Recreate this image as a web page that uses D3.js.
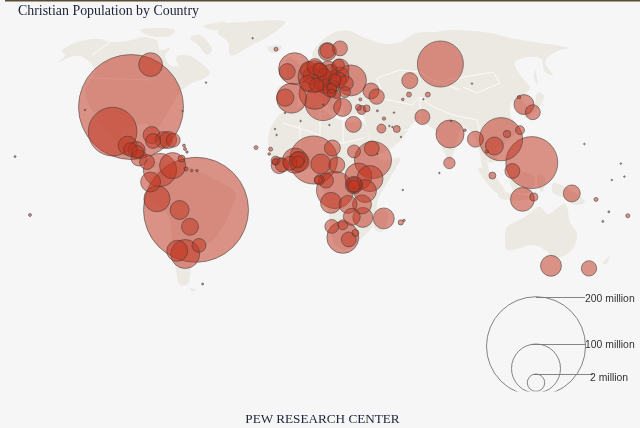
<!DOCTYPE html>
<html><head><meta charset="utf-8">
<style>html,body{margin:0;padding:0;background:#f6f6f6}svg{display:block;filter:blur(0.3px)}</style>
<script src="https://cdn.jsdelivr.net/npm/d3@7"></script></head><body>
<svg id="c" width="640" height="428"></svg>
<script>
const titleText="Christian Population by Country";
const sourceText="PEW RESEARCH CENTER";
const legendMillions=[200,100,2];
const legendLabels=["200 million","100 million","2 million"];

// [lon, lat, Christians in millions]
const americas=[[-90.5,38,212],[-80.7,59.2,22],[-99.7,25.7,99],[-92.2,18.7,7],[-90.7,16.7,1.6],[-87.7,16.5,1.95],[-87.2,15.7,1.38],[-86.5,12.5,1.84],[-82.5,10.5,1.72],[-80.2,24,1.95],[-79.5,21,1.72],[-74.2,21.5,1.95],[-71.9,21.5,1.95],[-69.4,21.4,1.6],[-69.7,8.7,29],[-76,6.5,51],[-77.5,-7.9,29],[-80.7,0.5,10],[-66.2,-13.5,7],[-58,-13.4,212],[-61,-21.9,1.95],[-67.4,-33.9,13],[-63.4,-35.5,38],[-56.5,-31.2,1.6],[-63,7,.46],[-60.2,6.2,.28],[-57.5,6.2,.28],[-65.2,12.2,.8],[-64,18.7,.34],[-63.5,17,.34],[-62.5,15.5,.28],[-29.7,72.4,.18],[-18,66.9,.46],[-148.5,13.2,.23],[-113.5,36.5,.18],[-64.7,36,.16],[-53,50.2,.18],[-141,-16,.34],[-54.7,-50.5,.23]];
const europe=[[-8.7,57.2,47],[-12.4,55.7,1.84],[-10.2,42.4,41],[-13.4,42.7,2],[1,53.2,47],[5.5,40.2,60],[1.5,44.8,47],[19.5,51.3,44],[7.7,66.1,1.72],[7.7,65.7,3.9],[14,67.3,1.72],[15.3,37.8,3.9],[29.5,46,1.84],[32.3,43.2,1.77],[23.2,37.8,.69],[27.3,37.3,.8],[24.8,36.5,1.03],[24.2,41.8,.34],[32.7,36.1,.23],[-1.8,56.5,1.9],[-2.3,49.8,1.84],[6.2,53.7,1.6],[6.5,48.2,1.6],[13.2,59,1.38],[13.2,51.5,1.84],[16.9,49.8,1.72],[10.7,48.2,1.38],[12.3,44.3,.92],[2.3,49,1.6],[1.5,58.2,1.84],[9,55.5,1.72],[4,56.5,1.6],[14,57.5,3.9],[16.5,45.5,1.26],[9.8,47.3,1.15],[9.8,44.8,.92],[11.5,51.5,1.38],[3,55.5,3.9],[8,56.5,3.9],[10,51.5,3.9],[5,50.5,3.9],[0,53.5,3.9],[14,53.5,3.9],[9,46.5,1.6]];
const africa=[[-28,17.7,.46],[-20.7,16.9,.46],[-21.4,14.5,.3],[-18.2,11.2,1.03],[-18.4,10.7,.69],[-16.4,8.7,1.84],[-14.9,9,1.6],[-11,9.9,1.6],[-8.5,11.2,26],[-6.4,10.7,10],[-7.2,11.9,1.72],[-7,10.5,1.38],[.7,11.5,97],[10.2,17.5,1.84],[4.4,9.5,10],[12.4,9,1.84],[3.7,1.5,1.15],[3.2,1.5,.92],[7,1.2,1.72],[11.5,-3.5,63],[30.5,11.5,63],[29.9,17.3,1.72],[21,15.8,1.49],[23.2,3.2,32],[29,2.2,29],[21,-1,2],[21,-1,1.72],[21,-1.5,1.38],[26.5,-4,19],[9.5,-9.9,13],[18,-10.7,3.9],[25,-10.7,7],[19.9,-16.9,1.95],[25.4,-17.2,10],[35.9,-17.7,13],[44.4,-19.7,.6],[46,-18.7,.28],[9.9,-21.7,1.6],[15.4,-20.9,1.15],[15.4,-27.2,47],[18.4,-28.2,1.72],[21.7,-25,.8],[20.7,29.3,1.84]];
const asiaPacific=[[64.2,59.5,91],[48.9,51.2,1.84],[48.5,44.2,.57],[57.9,44.2,.57],[45.4,41.8,.3],[55.2,33,1.72],[69,24.5,35],[68.7,10,1.31],[81.7,21.9,1.84],[94.5,21.9,82],[91.2,18.5,3.9],[97.5,24.5,.85],[104,26.4,1.03],[106,39.2,10],[110.4,35.4,1.72],[109.9,10.2,106],[100.2,6,1.72],[90.2,3.7,.8],[105.2,-8.2,22],[110.9,-7,.92],[129.9,-5.2,1.95],[142,-8.2,.46],[34.7,27.2,1.03],[42.4,27,.8],[36,32.2,.39],[103.5,42.9,.39],[87.4,15.7,.39],[76.5,26.4,.3],[119.5,-41.4,13],[138.5,-42.7,1.77],[157.9,-16.4,.46],[145.4,-19.2,.23],[136.2,19.5,.18],[154.4,9.7,.18],[156.2,3.2,.18],[149.9,1.5,.18],[148.4,-14.4,.23],[80,49.7,.18],[41,35.2,.18],[55.7,41.9,.16],[69.5,31,.18],[63.7,5,.18],[45.4,-3.5,.18],[44.5,23,.18],[38.7,28.5,.18],[40.2,28,.18],[32.7,14.5,.16],[5.7,39.2,.18],[8.7,29,.18],[-5.7,31,.18],[-18.5,27,.18],[-17.7,24,.18],[-13.5,35,.18]];

// land outlines, same map grid
const northAmerica=[[-127.5,60],[-123.5,64],[-125,66],[-121,69],[-113.5,71.5],[-106,72],[-101,70.5],[-90,71.5],[-84.5,73],[-77.5,71],[-76,66.5],[-71,67.5],[-73.5,63.5],[-71,59],[-67,58.5],[-68,63],[-62.5,64],[-56,60.5],[-51,55],[-53.5,52.5],[-61,49.5],[-66,45.5],[-68.5,41.5],[-74.5,31.5],[-79.5,25],[-82.5,29.5],[-92,27.5],[-95,24],[-92.5,20],[-87.5,19],[-86,16.5],[-82.5,11.5],[-76,10],[-78.5,7.5],[-83.5,10],[-93.5,16.5],[-103.5,27.5],[-110,36.5],[-113.5,46.5],[-108.5,56.5],[-116,63.5],[-122,62.5]];
const southAmerica=[[-74.5,10.5],[-63.5,9],[-56,5.5],[-50,2.5],[-38.5,-5],[-41,-14.5],[-48.5,-27.5],[-56,-33.5],[-60,-39.5],[-61,-46],[-62,-50.5],[-66,-51],[-68,-43.5],[-70,-28.5],[-72,-16],[-81,-8.5],[-82,-1],[-78.5,5.5]];
const eurasia=[[-17,47.5],[-8.5,51.5],[-2,56.5],[1.5,60.5],[0,64],[6.5,72.5],[16.5,76.5],[26.5,72.5],[36.5,69.5],[44,70.5],[52.5,75],[61.5,75.5],[70.5,76.5],[89,75],[99,72.5],[110.5,70.5],[128,67.5],[121.5,65.5],[116.5,60.5],[120.5,54],[116.5,55.5],[114,62.5],[101.5,60.5],[104,54],[109,47.5],[105,42.5],[108,37.5],[105,34],[102.5,36.5],[100,40.5],[99,34],[103,27.5],[96.5,20],[91.5,16.5],[93,11.5],[88,10.5],[86,16.5],[89,2.5],[86,5.5],[83,19],[80,25],[75.5,28],[69,11.5],[65.5,16.5],[61.5,26.5],[51.5,30.5],[47.5,25.5],[43,20],[33,15],[28,25],[25,34],[16.5,34],[15,39],[10,41.5],[11.5,35.5],[1.5,44],[-6,44],[-8.5,36.5],[-16,36.5],[-17.5,44]];
const africaLand=[[-22,21.5],[-20,29],[-14.5,35.5],[-6,38.5],[4,37.5],[11.5,32.5],[19,30.5],[25.5,30.5],[30,17.5],[35,11.5],[44,12.5],[39,2.5],[33,-8.5],[31.5,-19.5],[24,-28.5],[16.5,-33.5],[11.5,-31],[7.5,-11],[4,.5],[1.5,6.5],[-8.5,6.5],[-15,5.5],[-21,14]];
const australia=[[105.5,-17.5],[114,-12],[118,-15.5],[126.5,-10.5],[129,-19.5],[132.5,-25.5],[130,-33.5],[121.5,-37.5],[116.5,-33.5],[110.5,-31],[97.5,-33.5],[96.5,-28.5],[97.5,-22]];
const islands=[
[[-41,64],[-42,70.5],[-47,75],[-45,79],[-33.5,80.5],[-13.5,80.5],[-18.5,75.5],[-25,71.5],[-32,68],[-38.5,64]],
[[-61,72.5],[-56,74],[-50,66.5],[-52.5,64],[-57,69]],
[[-54.5,78.5],[-48.5,80],[-43,80.5],[-47,76.5]],
[[-86,76.5],[-68.5,76.5],[-71,73.5],[-81,73.5]],
[[-61,-52.5],[-57.5,-53.5],[-60,-54]],
[[34,-12.5],[38,-15],[35,-24.5],[31,-22.5],[32,-16]],
[[-12.5,62.5],[-7,60.5],[-4.5,51.5],[-11,50.5]],
[[-22,68],[-15,68.5],[-17,65.5],[-21,65.5]],
[[113,45.5],[116,43.5],[112.5,36.5],[106.5,32.5],[106.5,34],[111,38.5]],
[[111.5,56.5],[113,49],[111,52.5]],
[[83,7.5],[89,5.5],[96.5,-4.5],[92.5,-5]],
[[93,-5],[109,-7],[106.5,-8.5],[94,-7.5]],
[[99,1.5],[106.5,5.5],[111.5,2.5],[109,-4.5],[101.5,-4.5]],
[[113,4],[116.5,2.5],[115,-4.5],[113,-2]],
[[120.5,0],[129,-3.5],[136.5,-9.5],[131.5,-11],[125,-7],[120.5,-5]],
[[145.5,-40],[149,-36.5],[147,-40.5]]
];
const borders=[
[[-111,52.5],[-81,51.5]],
[[-110,64],[-101,70.5]],
[[32.5,52.5],[44,56.5],[54,55.5],[60.5,51.5],[74,46.5]],
[[67.5,51.5],[90.5,55.5],[94,50],[82.5,45],[75.5,48]],
[[54,43],[60.5,38],[70.5,34],[82.5,31.5],[84,25]],
[[32.5,52.5],[36,42],[50,39],[54,43],[54,29],[46,26]],
[[-14.5,30],[4,24],[4,37.5]],
[[-6,29],[-6,11.5]],
[[15.5,33],[15.5,20],[4,20]],
[[15.5,20],[26,22.5]],
[[-111,36.5],[-93,26]]
];

const W=640,H=428;
const lonScale=d3.scaleLinear().domain([-180,180]).range([-48,672]);
const latScale=d3.scaleLinear().domain([-90,90]).range([363,3]);
const rScale=d3.scaleLinear().domain([0,2,100,200]).range([0,8.7,24.5,49.5]);

const svg=d3.select("#c");
svg.append("rect").attr("width",W).attr("height",H).attr("fill","#f6f6f6");
svg.append("rect").attr("x",5).attr("y",0).attr("width",W-5).attr("height",1.5).attr("fill","#5b4a33");

const line=d3.line().x(d=>lonScale(d[0])).y(d=>latScale(d[1]));
const closed=d3.line().x(d=>lonScale(d[0])).y(d=>latScale(d[1])).curve(d3.curveCatmullRomClosed.alpha(0.5));
svg.append("g").selectAll("path").data([northAmerica,southAmerica,eurasia,africaLand,australia,...islands]).join("path")
  .attr("d",closed).attr("fill","#ece9e3").attr("stroke","none");
svg.append("g").selectAll("path").data(borders).join("path")
  .attr("d",line).attr("fill","none").attr("stroke","#fbfbfa").attr("stroke-width",1);

const bubbles=[...americas,...europe,...africa,...asiaPacific].slice().sort((a,b)=>b[2]-a[2]);
svg.append("g").selectAll("circle").data(bubbles).join("circle")
  .attr("cx",d=>lonScale(d[0])).attr("cy",d=>latScale(d[1])).attr("r",d=>rScale(d[2]))
  .attr("fill","#c0341f").attr("fill-opacity",0.52)
  .attr("stroke","#3a3a3a").attr("stroke-opacity",0.6).attr("stroke-width",0.9);

svg.append("text").attr("x",18).attr("y",15).attr("font-family","Liberation Serif").attr("font-size",13.9)
  .attr("fill","#1c2238").text(titleText);
svg.append("text").attr("x",322.5).attr("y",423).attr("text-anchor","middle").attr("font-family","Liberation Serif")
  .attr("font-size",13.2).attr("fill","#1c2238").text(sourceText);

// size legend: bubbles sit on a shared baseline, clipped at the bottom
const legendCx=536;
svg.append("clipPath").attr("id","lc").append("rect").attr("x",480).attr("y",290).attr("width",120).attr("height",101.4);
const lg=svg.append("g");
lg.append("g").attr("clip-path","url(#lc)").selectAll("circle").data(legendMillions).join("circle")
  .attr("cx",legendCx).attr("r",d=>rScale(d))
  .attr("cy",(d,i)=>i===0?296.7+rScale(d):i===1?344+rScale(d):374+rScale(d))
  .attr("fill","none").attr("stroke","#666").attr("stroke-width",0.8);
const legY=[297.5,344.5,374.5], legX1=[536,531,533], legX2=[585,586,593], textX=[585,585,590], textY=[301.5,348,380.5];
lg.selectAll("line").data(legendMillions).join("line")
  .attr("x1",(d,i)=>legX1[i]).attr("x2",(d,i)=>legX2[i]).attr("y1",(d,i)=>legY[i]).attr("y2",(d,i)=>legY[i])
  .attr("stroke","#777").attr("stroke-width",0.9);
lg.selectAll("text").data(legendLabels).join("text")
  .attr("x",(d,i)=>textX[i]).attr("y",(d,i)=>textY[i])
  .attr("font-family","Liberation Sans").attr("font-size",10.4).attr("fill","#333").text(d=>d);
</script></body></html>
